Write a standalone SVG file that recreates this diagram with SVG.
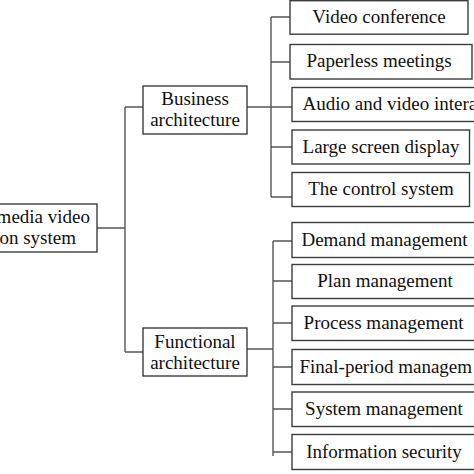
<svg xmlns="http://www.w3.org/2000/svg" width="474" height="474" viewBox="0 0 474 474">
<style>
.box{fill:#fff;stroke:#3c3c3c;stroke-width:1.4}
.t{font-family:"Liberation Serif","Times New Roman",serif;font-size:19px;fill:#111;text-anchor:middle}
.ts{font-family:"Liberation Serif","Times New Roman",serif;font-size:19px;fill:#111;text-anchor:start}
.te{font-family:"Liberation Serif","Times New Roman",serif;font-size:19px;fill:#111;text-anchor:end}
.c{fill:none;stroke:#555;stroke-width:1.4}
</style>
<rect width="474" height="474" fill="#fff"/>
<g id="connectors">
<path class="c" d="M97 228H125M125 107V352M125 107H143M125 352H143"/>
<path class="c" d="M247 107H271M271 17V197M271 17H290M271 62H290M271 107H292M271 147H292M271 197H292"/>
<path class="c" d="M247 349H273M273 241V456M273 241H292M273 281H292M273 323H292M273 367H292M273 409H292M273 452H292"/>
</g>
<g id="root">
<rect class="box" x="-10" y="204" width="107" height="48"/>
<text class="te" x="90" y="223">media video</text>
<text class="te" x="76" y="244">on system</text>
</g>
<g id="business">
<rect class="box" x="143" y="86" width="104" height="48"/>
<text class="t" x="195" y="105">Business</text>
<text class="t" x="195" y="126">architecture</text>
</g>
<g id="functional">
<rect class="box" x="143" y="328" width="104" height="48"/>
<text class="t" x="195" y="348">Functional</text>
<text class="t" x="195" y="369">architecture</text>
</g>
<g id="video-conference">
<rect class="box" x="290" y="0.7" width="178" height="33.5"/>
<text class="t" x="379" y="23">Video conference</text>
</g>
<g id="paperless-meetings">
<rect class="box" x="290" y="44.5" width="182" height="34.5"/>
<text class="t" x="379" y="67">Paperless meetings</text>
</g>
<g id="audio-video">
<rect class="box" x="292" y="87.5" width="190" height="34"/>
<text class="ts" x="302.5" y="110">Audio and video intera</text>
</g>
<g id="large-screen">
<rect class="box" x="292" y="130" width="177.5" height="34"/>
<text class="t" x="381" y="153">Large screen display</text>
</g>
<g id="control-system">
<rect class="box" x="292" y="172.5" width="177.5" height="34"/>
<text class="t" x="381" y="195">The control system</text>
</g>
<g id="demand">
<rect class="box" x="292" y="222.5" width="190" height="35"/>
<text class="t" x="384.5" y="246">Demand management</text>
</g>
<g id="plan">
<rect class="box" x="292" y="264.5" width="190" height="34"/>
<text class="t" x="385" y="287">Plan management</text>
</g>
<g id="process">
<rect class="box" x="292" y="306" width="190" height="34.5"/>
<text class="t" x="383.5" y="329">Process management</text>
</g>
<g id="final-period">
<rect class="box" x="292" y="349.5" width="190" height="35"/>
<text class="ts" x="299.5" y="373">Final-period managem</text>
</g>
<g id="system-management">
<rect class="box" x="292" y="392" width="190" height="34.5"/>
<text class="t" x="384" y="415">System management</text>
</g>
<g id="information-security">
<rect class="box" x="292" y="434.5" width="190" height="35"/>
<text class="t" x="384" y="458">Information security</text>
</g>
</svg>
